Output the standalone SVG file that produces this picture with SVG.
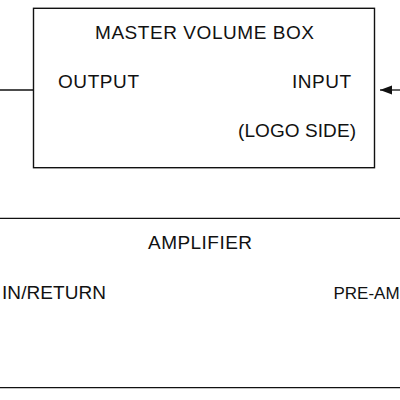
<svg xmlns="http://www.w3.org/2000/svg" width="400" height="400" viewBox="0 0 400 400">
<defs>
<style>
text{font-family:"Liberation Sans",Arial,sans-serif;font-size:19px;fill:#111}
.box{fill:#fff;stroke:#111;stroke-width:1.4}
.ln{stroke:#111;stroke-width:1.3;fill:none}
</style>
<marker id="ah" viewBox="0 0 12 10" refX="12" refY="5" markerWidth="12" markerHeight="10" markerUnits="userSpaceOnUse" orient="auto">
<path d="M0,0.5 L12,5 L0,9.5 Z" fill="#111"/>
</marker>
</defs>
<rect width="400" height="400" fill="#fff"/>
<g id="connectors">
<line class="ln" x1="0" y1="90" x2="33.5" y2="90"/>
<line class="ln" x1="400" y1="90" x2="380" y2="90" marker-end="url(#ah)"/>
</g>
<g id="master-volume-box">
<rect class="box" x="33.5" y="8.3" width="341" height="159.4"/>
<text x="95" y="39" textLength="219">MASTER VOLUME BOX</text>
<text x="58" y="88" textLength="81">OUTPUT</text>
<text x="292" y="88" textLength="59">INPUT</text>
<text x="238" y="137" textLength="118">(LOGO SIDE)</text>
</g>
<g id="amplifier">
<line class="ln" x1="0" y1="218.3" x2="400" y2="218.3"/>
<line class="ln" x1="0" y1="387.7" x2="400" y2="387.7"/>
<text x="148" y="249" textLength="104">AMPLIFIER</text>
<text x="2" y="299" textLength="104">IN/RETURN</text>
<text x="333.5" y="299" style="font-size:17px">PRE-AM</text>
</g>
</svg>
